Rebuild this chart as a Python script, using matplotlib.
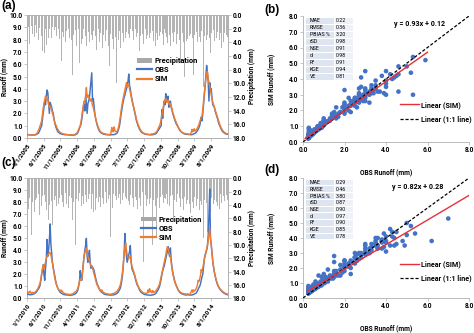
import matplotlib
matplotlib.use("Agg")
import matplotlib.pyplot as plt
from matplotlib.patches import Patch, Rectangle
from matplotlib.lines import Line2D
import numpy as np
import pandas as pd

FONT = "Roboto"
plt.rcParams["font.family"] = [FONT, "DejaVu Sans"]
plt.rcParams["font.weight"] = "bold"

# ---------------- weekly runoff (mm), 2005-2009 ----------------
obs_2005 = [0.30, 0.28, 0.27, 0.26, 0.26, 0.25, 0.25, 0.24, 0.24, 0.24, 0.25, 0.26, 0.28,
            0.32, 0.36, 0.40, 0.55, 0.70, 0.85, 1.00, 1.50, 2.00, 2.50, 3.00, 2.70, 3.40,
            3.90, 3.70, 2.80, 2.00, 2.90, 2.70, 2.50, 2.20, 2.00, 1.60, 1.20, 1.00, 0.80,
            0.65, 0.50, 0.45, 0.40, 0.36, 0.33, 0.31, 0.30, 0.29, 0.28, 0.27, 0.27, 0.26]
sim_2005 = [0.28, 0.27, 0.26, 0.25, 0.25, 0.24, 0.24, 0.24, 0.25, 0.26, 0.28, 0.30, 0.33,
            0.38, 0.50, 0.65, 0.80, 1.00, 1.20, 1.40, 1.90, 2.40, 2.80, 3.10, 3.40, 3.30,
            3.10, 3.20, 2.70, 2.50, 2.60, 2.50, 2.30, 2.00, 1.80, 1.50, 1.30, 1.10, 1.00,
            0.80, 0.70, 0.60, 0.52, 0.46, 0.42, 0.38, 0.36, 0.34, 0.32, 0.31, 0.30, 0.29]
obs_2006 = [0.27, 0.26, 0.25, 0.25, 0.24, 0.24, 0.23, 0.23, 0.23, 0.24, 0.25, 0.27, 0.30,
            0.35, 0.45, 0.60, 0.80, 0.95, 1.10, 1.50, 2.00, 2.50, 2.90, 2.20, 3.30, 2.80,
            2.00, 2.80, 3.00, 3.30, 4.00, 4.60, 5.30, 3.00, 3.20, 2.60, 2.00, 1.60, 1.30,
            1.05, 0.85, 0.70, 0.55, 0.48, 0.42, 0.38, 0.35, 0.32, 0.30, 0.29, 0.28, 0.27]
sim_2006 = [0.28, 0.27, 0.26, 0.26, 0.25, 0.25, 0.25, 0.25, 0.26, 0.27, 0.29, 0.32, 0.36,
            0.42, 0.55, 0.70, 0.85, 1.00, 1.30, 1.70, 2.20, 2.60, 3.00, 2.80, 3.40, 4.10,
            3.30, 3.50, 3.40, 3.10, 3.00, 3.20, 3.00, 2.60, 2.50, 2.20, 1.90, 1.60, 1.35,
            1.15, 0.95, 0.80, 0.65, 0.55, 0.48, 0.43, 0.40, 0.37, 0.35, 0.33, 0.32, 0.31]
obs_2007 = [0.27, 0.26, 0.26, 0.25, 0.25, 0.26, 0.28, 0.27, 0.27, 0.28, 0.30, 0.32, 0.35,
            0.42, 0.55, 0.75, 1.00, 1.40, 1.90, 2.30, 2.70, 3.00, 3.30, 3.50, 3.80, 4.00,
            4.40, 4.60, 5.20, 4.30, 4.00, 3.50, 3.20, 2.90, 2.60, 2.30, 2.00, 1.70, 1.40,
            1.20, 1.00, 0.85, 0.70, 0.60, 0.50, 0.45, 0.40, 0.37, 0.34, 0.32, 0.30, 0.29]
sim_2007 = [0.30, 0.29, 0.28, 0.28, 0.30, 0.45, 0.85, 0.55, 0.50, 0.90, 0.60, 0.50, 0.50,
            0.55, 0.70, 0.95, 1.30, 1.70, 2.20, 2.60, 3.00, 3.30, 3.60, 3.90, 4.20, 4.50,
            4.10, 4.30, 4.40, 4.00, 3.70, 3.40, 3.10, 2.80, 2.60, 2.30, 2.10, 1.80, 1.50,
            1.30, 1.10, 0.95, 0.80, 0.68, 0.58, 0.50, 0.45, 0.40, 0.37, 0.35, 0.33, 0.32]
obs_2008 = [0.29, 0.28, 0.27, 0.27, 0.26, 0.26, 0.26, 0.27, 0.28, 0.30, 0.32, 0.35, 0.40,
            0.50, 0.60, 0.70, 0.80, 0.90, 1.00, 2.30, 1.60, 2.40, 3.00, 2.70, 3.60, 2.90,
            3.20, 3.40, 2.50, 2.80, 3.00, 2.50, 2.30, 2.00, 1.80, 1.60, 1.40, 1.25, 1.10,
            1.00, 0.90, 0.75, 0.65, 0.55, 0.50, 0.45, 0.40, 0.36, 0.34, 0.32, 0.30, 0.30]
sim_2008 = [0.31, 0.30, 0.29, 0.29, 0.28, 0.30, 0.35, 0.32, 0.33, 0.36, 0.40, 0.45, 0.50,
            0.60, 0.75, 0.90, 1.00, 1.20, 1.50, 1.90, 2.20, 2.60, 2.90, 3.10, 3.20, 2.90,
            3.00, 3.10, 2.80, 2.70, 2.80, 2.60, 2.40, 2.10, 1.90, 1.70, 1.50, 1.35, 1.20,
            1.05, 0.90, 0.80, 0.70, 0.60, 0.52, 0.47, 0.43, 0.40, 0.38, 0.36, 0.35, 0.34]
obs_2009 = [0.30, 0.29, 0.28, 0.28, 0.27, 0.27, 0.28, 0.30, 0.32, 0.35, 0.38, 0.42, 0.50,
            0.60, 0.70, 0.85, 1.00, 1.30, 1.70, 1.40, 2.00, 2.70, 3.50, 4.20, 5.00, 5.90,
            5.30, 4.60, 3.00, 4.50, 4.00, 4.00, 3.20, 2.70, 2.60, 2.50, 2.20, 2.00, 1.80,
            1.60, 1.35, 1.15, 1.00, 0.85, 0.70, 0.60, 0.50, 0.45, 0.40, 0.36, 0.33, 0.31, 0.30]
sim_2009 = [0.33, 0.32, 0.31, 0.30, 0.32, 0.45, 0.70, 0.50, 0.65, 0.75, 0.55, 0.60, 0.70,
            0.80, 0.95, 1.10, 1.30, 1.50, 1.60, 1.80, 2.30, 3.00, 3.60, 4.30, 4.80, 5.20,
            5.40, 4.80, 4.50, 4.20, 3.90, 3.50, 3.20, 2.90, 2.70, 2.50, 2.30, 2.10, 1.90,
            1.70, 1.50, 1.30, 1.10, 0.95, 0.80, 0.70, 0.60, 0.52, 0.46, 0.42, 0.38, 0.35, 0.34]

# ---------------- weekly runoff (mm), 2010-2014 ----------------
obs_2010 = [0.35, 0.33, 0.32, 0.30, 0.30, 0.30, 0.31, 0.32, 0.34, 0.36, 0.40, 0.45, 0.50,
            0.60, 0.70, 0.80, 0.90, 1.10, 1.50, 2.00, 2.40, 2.80, 2.00, 1.50, 2.50, 3.20,
            4.90, 3.50, 4.00, 4.80, 6.20, 4.50, 3.80, 3.00, 2.60, 2.20, 1.90, 1.50, 1.20,
            1.00, 0.85, 0.70, 0.60, 0.50, 0.45, 0.40, 0.36, 0.33, 0.31, 0.30, 0.29, 0.28]
sim_2010 = [0.45, 0.55, 0.40, 0.50, 0.60, 0.45, 0.40, 0.50, 0.45, 0.42, 0.50, 0.55, 0.60,
            0.70, 0.80, 0.95, 1.10, 1.30, 1.60, 2.00, 2.40, 2.70, 2.50, 2.80, 3.00, 3.30,
            3.50, 3.60, 3.70, 3.80, 3.80, 3.60, 3.30, 2.90, 2.50, 2.10, 1.70, 1.40, 1.20,
            1.00, 0.85, 0.75, 0.65, 0.60, 0.70, 0.55, 0.60, 0.45, 0.42, 0.40, 0.38, 0.36]
obs_2011 = [0.28, 0.27, 0.27, 0.26, 0.26, 0.26, 0.27, 0.28, 0.30, 0.32, 0.35, 0.40, 0.45,
            0.55, 0.70, 1.00, 1.40, 2.30, 1.80, 1.50, 2.20, 2.80, 3.50, 4.00, 4.40, 5.00,
            3.50, 3.00, 3.60, 4.00, 3.00, 2.50, 2.70, 2.60, 2.50, 2.30, 2.00, 1.70, 1.45,
            1.20, 1.05, 0.90, 0.75, 0.62, 0.55, 0.50, 0.45, 0.40, 0.36, 0.33, 0.31, 0.30]
sim_2011 = [0.35, 0.34, 0.33, 0.32, 0.32, 0.33, 0.35, 0.37, 0.40, 0.45, 0.50, 0.55, 0.60,
            0.70, 0.85, 1.10, 1.40, 1.60, 1.50, 1.60, 2.20, 2.90, 3.50, 3.80, 4.00, 4.20,
            3.80, 3.50, 3.30, 3.10, 2.90, 2.70, 2.60, 2.50, 2.30, 2.00, 1.80, 1.50, 1.30,
            1.10, 1.00, 0.85, 0.75, 0.70, 0.60, 0.70, 0.55, 0.50, 0.45, 0.42, 0.40, 0.38]
obs_2012 = [0.30, 0.29, 0.28, 0.28, 0.27, 0.27, 0.27, 0.28, 0.29, 0.30, 0.32, 0.35, 0.38,
            0.42, 0.50, 0.60, 0.70, 0.85, 1.10, 1.50, 2.00, 2.80, 3.80, 5.40, 4.20, 3.50,
            3.00, 3.30, 3.60, 3.90, 4.40, 3.20, 2.50, 2.30, 2.20, 2.00, 1.80, 1.50, 1.30,
            1.10, 1.00, 0.85, 0.70, 0.60, 0.50, 0.45, 0.40, 0.36, 0.33, 0.31, 0.30, 0.29]
sim_2012 = [0.37, 0.36, 0.35, 0.34, 0.34, 0.35, 0.36, 0.38, 0.40, 0.42, 0.45, 0.50, 0.55,
            0.60, 0.70, 0.80, 0.95, 1.10, 1.40, 1.80, 2.30, 3.00, 3.80, 4.30, 4.60, 4.00,
            3.60, 3.40, 3.30, 3.40, 3.50, 3.00, 2.70, 2.50, 2.30, 2.10, 1.90, 1.60, 1.40,
            1.20, 1.05, 0.90, 0.80, 0.70, 0.62, 0.55, 0.50, 0.46, 0.43, 0.41, 0.40, 0.42]
obs_2013 = [0.28, 0.27, 0.27, 0.26, 0.26, 0.26, 0.27, 0.28, 0.30, 0.32, 0.35, 0.40, 0.50,
            0.60, 0.70, 0.85, 1.00, 1.30, 1.60, 2.00, 2.30, 2.50, 2.70, 3.00, 3.30, 3.60,
            3.90, 4.30, 3.80, 3.50, 4.20, 3.20, 2.60, 2.20, 1.90, 1.60, 1.35, 1.15, 1.00,
            0.85, 0.70, 0.60, 0.50, 0.45, 0.40, 0.37, 0.34, 0.32, 0.30, 0.29, 0.28, 0.28]
sim_2013 = [0.45, 0.70, 0.50, 0.80, 0.55, 0.60, 0.45, 0.65, 0.50, 0.50, 0.55, 0.60, 0.70,
            0.80, 0.90, 1.05, 1.20, 1.50, 1.80, 2.10, 2.40, 2.70, 3.00, 3.30, 3.60, 4.00,
            4.30, 4.10, 3.90, 3.70, 3.50, 3.00, 2.50, 2.10, 1.80, 1.50, 1.30, 1.15, 1.00,
            0.85, 0.72, 0.62, 0.55, 0.50, 0.46, 0.43, 0.40, 0.38, 0.37, 0.36, 0.36, 0.35]
obs_2014 = [0.30, 0.29, 0.28, 0.28, 0.27, 0.27, 0.28, 0.30, 0.32, 0.35, 0.38, 0.42, 0.50,
            0.60, 0.75, 0.90, 1.00, 1.20, 1.50, 1.80, 2.00, 2.60, 3.30, 3.60, 3.80, 4.00,
            4.30, 5.20, 7.00, 9.10, 5.00, 4.50, 3.80, 3.00, 2.60, 2.20, 1.90, 1.60, 1.35,
            1.15, 1.00, 0.88, 0.78, 0.70, 0.62, 0.56, 0.50, 0.45, 0.41, 0.37, 0.34, 0.32, 0.30]
sim_2014 = [0.37, 0.36, 0.35, 0.34, 0.40, 0.55, 0.70, 0.50, 0.70, 0.60, 0.65, 0.75, 0.90,
            1.10, 1.50, 1.40, 1.60, 1.90, 2.40, 2.20, 2.50, 2.90, 3.20, 3.50, 3.80, 4.10,
            4.40, 4.80, 5.30, 5.80, 5.00, 4.40, 3.70, 3.10, 2.60, 2.20, 1.90, 1.60, 1.40,
            1.20, 1.05, 0.92, 0.82, 0.74, 0.67, 0.60, 0.55, 0.50, 0.46, 0.42, 0.39, 0.37, 0.35]

# ---------------- weekly precipitation peaks (mm) ----------------
prcp_2005_2009 = [
    2.5, 3.0, 1.8, 4.2, 2.2, 3.5, 1.6, 2.8, 4.5, 2.0, 3.2, 1.5, 2.6, 4.0, 2.4, 3.6, 1.9, 4.8,
    2.7, 3.1, 5.2, 2.3, 3.8, 5.5, 2.1, 4.4, 2.9, 5.0, 3.3, 2.0, 4.1, 2.6, 3.4, 1.8, 2.9, 3.7,
    2.2, 1.7, 3.0, 2.4, 4.3, 2.0, 3.5, 2.8, 4.6, 6.8, 2.5, 3.2, 1.9, 2.7, 3.9, 2.3,
    2.8, 4.0, 2.1, 3.3, 5.0, 2.6, 3.6, 8.8, 2.9, 6.0, 3.4, 2.2, 4.5, 2.8, 3.9, 2.0, 7.0, 3.1,
    2.4, 4.2, 3.5, 2.0, 5.3, 2.7, 3.0, 4.6, 2.2, 3.8, 2.5, 4.0, 3.2, 1.8, 2.9, 3.6, 2.3, 4.4,
    2.6, 3.1, 5.1, 2.4, 3.3, 2.0, 4.0, 2.7, 3.5, 2.1, 4.8, 2.9, 3.2, 2.5, 3.8, 2.2,
    8.0, 3.0, 4.5, 7.5, 2.8, 4.2, 16.5, 3.5, 5.0, 2.6, 4.0, 3.2, 10.0, 2.9, 6.5, 3.6, 2.4, 4.8,
    3.1, 5.5, 2.7, 3.9, 2.2, 4.6, 3.3, 2.5, 4.1, 6.0, 2.8, 3.4, 2.0, 4.4, 3.0, 2.3, 3.7, 2.6,
    4.9, 2.1, 3.2, 2.7, 3.8, 2.4, 5.2, 3.0, 2.2, 3.6, 2.8, 4.3, 2.5, 3.1, 2.0, 3.5,
    2.9, 4.0, 2.3, 3.4, 2.6, 4.7, 10.5, 2.4, 3.8, 2.2, 3.3, 4.5, 2.7, 3.6, 2.0, 4.2, 3.0, 2.5,
    5.0, 3.3, 2.8, 4.4, 2.1, 11.0, 2.6, 3.2, 4.1, 2.4, 3.5, 2.9, 4.6, 2.2, 3.0, 2.7, 3.9, 2.5,
    3.4, 2.1, 4.3, 2.8, 3.1, 2.4, 3.6, 7.0, 3.0, 7.5, 2.6, 4.0, 9.0, 3.2, 2.7, 3.8,
    3.5, 2.4, 4.6, 3.0, 2.8, 4.1, 2.2, 3.3, 8.8, 2.9, 3.6, 4.4, 2.5, 3.9, 2.6, 9.5, 3.2, 4.0,
    2.3, 3.5, 2.7, 10.5, 3.1, 4.8, 2.4, 3.7, 2.9, 4.2, 2.1, 3.4, 5.6, 2.6, 3.0, 4.5, 2.2, 3.8,
    2.8, 5.0, 3.3, 2.5, 4.3, 2.0, 3.6, 2.7, 4.9, 3.1, 2.3, 3.9, 2.6, 3.4, 4.7, 2.9, 3.2]
prcp_2010_2014 = [
    3.2, 2.5, 4.6, 3.0, 5.2, 2.8, 8.5, 3.5, 4.1, 2.6, 5.0, 3.3, 2.9, 4.4, 3.7, 2.4, 5.5, 8.0,
    3.1, 4.2, 2.7, 3.9, 5.1, 2.5, 3.6, 4.8, 2.9, 3.3, 6.2, 4.0, 3.0, 10.5, 3.4, 7.0, 2.8, 4.5,
    3.2, 2.6, 4.1, 3.5, 2.3, 3.8, 2.9, 4.7, 3.1, 2.5, 3.6, 4.3, 2.7, 3.4, 2.2, 3.9,
    6.0, 3.0, 4.4, 2.6, 5.8, 3.3, 2.9, 6.2, 3.6, 2.4, 4.1, 10.0, 3.1, 2.7, 4.5, 3.4, 2.2, 11.5,
    3.0, 4.2, 2.6, 3.8, 3.2, 4.9, 2.5, 3.5, 2.8, 4.0, 3.1, 2.3, 3.7, 2.9, 4.6, 2.4, 5.0, 3.2,
    2.7, 4.8, 3.0, 2.5, 5.1, 3.6, 2.8, 4.3, 2.2, 3.4, 2.9, 3.9, 2.6, 3.3, 2.1, 3.7,
    2.8, 4.2, 3.1, 2.5, 8.8, 3.6, 2.9, 4.4, 2.3, 3.5, 4.0, 2.7, 3.2, 4.7, 2.6, 3.0, 2.4, 3.8,
    2.9, 4.1, 3.3, 2.2, 3.6, 4.5, 2.8, 3.1, 9.5, 2.7, 3.4, 4.0, 2.5, 3.7, 2.3, 3.0, 4.3, 2.6,
    3.9, 2.8, 3.2, 4.6, 2.4, 3.5, 2.9, 4.1, 2.7, 3.3, 2.1, 12.5, 3.0, 3.6, 2.5, 4.2,
    3.1, 4.4, 2.6, 3.8, 2.9, 3.4, 4.9, 10.0, 3.2, 7.5, 2.7, 4.1, 9.0, 3.0, 3.6, 2.4, 4.5, 2.8,
    3.3, 4.0, 2.5, 3.7, 2.9, 4.6, 3.1, 2.3, 3.9, 2.7, 3.4, 4.2, 2.6, 3.0, 4.8, 2.5, 6.5, 3.2,
    2.8, 6.0, 3.5, 2.4, 7.0, 3.3, 2.9, 4.3, 3.6, 2.6, 3.1, 4.7, 2.8, 3.4, 2.2, 3.9,
    3.3, 4.6, 2.7, 3.9, 5.2, 3.0, 14.5, 3.5, 4.4, 2.8, 5.0, 3.6, 4.1, 3.1, 5.4, 2.9, 4.7, 3.4,
    4.0, 2.6, 3.8, 9.0, 3.2, 5.5, 11.0, 3.7, 8.0, 4.3, 2.9, 3.6, 5.1, 3.0, 4.5, 2.7, 3.9, 3.3,
    4.8, 2.5, 3.5, 4.2, 2.8, 3.1, 4.6, 2.4, 3.7, 3.0, 4.0, 2.6, 3.4, 2.9, 3.8, 2.5, 3.2]

obs_a = obs_2005 + obs_2006 + obs_2007 + obs_2008 + obs_2009
sim_a = sim_2005 + sim_2006 + sim_2007 + sim_2008 + sim_2009
obs_c = obs_2010 + obs_2011 + obs_2012 + obs_2013 + obs_2014
sim_c = sim_2010 + sim_2011 + sim_2012 + sim_2013 + sim_2014

# ---------------- goodness-of-fit statistics ----------------
stat_names = ["MAE", "RMSE", "PBIAS %", "rSD", "NSE", "d", "R²", "KGE", "VE"]
stats_cal = [0.22, 0.36, 3.20, 0.98, 0.91, 0.98, 0.91, 0.94, 0.81]
stats_val = [0.29, 0.46, 3.80, 0.87, 0.90, 0.97, 0.90, 0.85, 0.78]
fit_cal = (0.93, 0.12)      # slope, intercept
fit_val = (0.82, 0.28)
fit_span_cal = (0.1, 6.0)
fit_span_val = (0.2, 8.0)

BLUE = "#4472C4"
ORANGE = "#ED7D31"
GRAY = "#b4b4b4"
RED = "#E8303A"
SPINE = "#b0b0b0"
TS = 4.8

W, H = 474, 333
fig = plt.figure(figsize=(W / 100, H / 100), dpi=100)


def px_axes(x0, y0, x1, y1):
    return fig.add_axes([x0 / W, 1 - y1 / H, (x1 - x0) / W, (y1 - y0) / H])


def style_ticks(ax, xsize=TS):
    for lab in ax.get_xticklabels() + ax.get_yticklabels():
        lab.set_fontweight("bold")
    ax.tick_params(labelsize=TS, length=2, width=0.5, color=SPINE, pad=1.2)
    ax.tick_params(axis="x", labelsize=xsize)


def series_panel(box, start, obs, sim, prcp, legend_xy):
    ax = px_axes(*box)
    dates = pd.date_range(start, periods=len(obs), freq="7D")
    pdates = pd.date_range(start, periods=len(prcp), freq="7D")
    ax2 = ax.twinx()
    ax2.bar(pdates, prcp, width=5, color=GRAY, linewidth=0, align="center")
    ax2.set_ylim(18, 0)
    ax2.set_yticks(np.arange(0, 19, 2))
    ax2.set_yticklabels([f"{v:.1f}" for v in np.arange(0, 19, 2)])
    ax2.set_ylabel("Precipitation (mm)", fontsize=TS, fontweight="bold", labelpad=2)
    ax.set_zorder(ax2.get_zorder() + 1)
    ax.patch.set_visible(False)

    ax.plot(dates, obs, color=BLUE, lw=1.05, zorder=3)
    ax.plot(dates, sim, color=ORANGE, lw=1.05, zorder=4)
    y0 = pd.Timestamp(start)
    ax.set_xlim(y0, y0 + pd.DateOffset(years=5) - pd.Timedelta(days=1))
    ax.set_ylim(0, 10)
    ax.set_yticks(np.arange(0, 11, 1))
    ax.set_yticklabels([f"{v:.1f}" for v in np.arange(0, 11, 1)])
    ticks = pd.date_range(start, periods=12, freq="5MS")
    ax.set_xticks(ticks)
    ax.set_xticklabels([f"{d.month}/{d.day}/{d.year}" for d in ticks],
                       rotation=55, ha="right", rotation_mode="anchor")
    ax.set_ylabel("Runoff (mm)", fontsize=TS, fontweight="bold", labelpad=1)
    style_ticks(ax, xsize=4.6)
    style_ticks(ax2)
    for a in (ax, ax2):
        for s in a.spines.values():
            s.set_color(SPINE)
            s.set_linewidth(0.6)
    handles = [Patch(facecolor="#a8a8a8", edgecolor="none", label="Precipitation"),
               Line2D([], [], color=BLUE, lw=1.6, label="OBS"),
               Line2D([], [], color=ORANGE, lw=1.6, label="SIM")]
    leg = ax.legend(handles=handles, loc="upper left", bbox_to_anchor=legend_xy,
                    frameon=False, fontsize=TS + 0.6, handlelength=2.0, handleheight=0.6,
                    labelspacing=0.15, borderpad=0, handletextpad=0.3)
    for t in leg.get_texts():
        t.set_fontweight("bold")
    return ax


def scatter_panel(box, obs, sim, stats, fit, span, eq_xy, leg_xy, table_top, table_bot):
    ax = px_axes(*box)
    ax.scatter(obs, sim, s=11, color=BLUE, edgecolors="none", zorder=2)
    ax.plot([0, 8], [0, 8], ls=(0, (2.5, 1.5)), color="black", lw=0.9, zorder=3,
            label="Linear (1:1 line)")
    xs = np.array(span)
    ax.plot(xs, fit[0] * xs + fit[1], color=RED, lw=1.0, zorder=4, label="Linear (SIM)")
    ax.set_xlim(0, 8)
    ax.set_ylim(0, 8)
    ax.set_xticks(np.arange(0, 9, 2))
    ax.set_xticklabels([f"{v:.1f}" for v in np.arange(0, 9, 2)])
    ax.set_yticks(np.arange(0, 9, 1))
    ax.set_yticklabels([f"{v:.1f}" for v in np.arange(0, 9, 1)])
    for side in ("top", "right"):
        ax.spines[side].set_visible(False)
    for side in ("left", "bottom"):
        ax.spines[side].set_color(SPINE)
        ax.spines[side].set_linewidth(0.6)
    style_ticks(ax)
    ax.set_xlabel("OBS Runoff (mm)", fontsize=TS, fontweight="bold", labelpad=10)
    ax.set_ylabel("SIM Runoff (mm)", fontsize=TS, fontweight="bold", labelpad=10)
    ax.text(eq_xy[0], eq_xy[1], f"y = {fit[0]:.2f}x + {fit[1]:.2f}", transform=ax.transAxes,
            fontsize=TS + 0.3, fontweight="bold", ha="center", va="center")
    h, l = ax.get_legend_handles_labels()
    leg = ax.legend([h[1], h[0]], [l[1], l[0]], loc="lower left", bbox_to_anchor=leg_xy,
                    frameon=False, fontsize=TS + 0.3, handlelength=2.8, labelspacing=0.9,
                    borderpad=0, handletextpad=0.3)
    for t in leg.get_texts():
        t.set_fontweight("bold")
    # statistics table
    n = len(stat_names)
    rh = (table_top - table_bot) / n
    for i, (name, val) in enumerate(zip(stat_names, stats)):
        yt = table_top - (i + 1) * rh
        ax.add_patch(Rectangle((0.02, yt + 0.004), 0.165, rh - 0.008, transform=ax.transAxes,
                               facecolor="#dfe5f0", edgecolor="none", zorder=5))
        ax.add_patch(Rectangle((0.19, yt + 0.004), 0.11, rh - 0.008, transform=ax.transAxes,
                               facecolor="#eef1f7", edgecolor="none", zorder=5))
        ax.text(0.04, yt + rh / 2, name, transform=ax.transAxes, fontsize=3.8,
                va="center", ha="left", zorder=6, fontweight="normal")
        ax.text(0.20, yt + rh / 2, f"{val:.2f}", transform=ax.transAxes, fontsize=3.8,
                va="center", ha="left", zorder=6, fontweight="normal")
    return ax


series_panel((27, 15, 228, 138), "2005-01-01", obs_a, sim_a, prcp_2005_2009, (0.53, 0.69))
series_panel((27, 178.3, 228, 298.3), "2010-01-01", obs_c, sim_c, prcp_2010_2014, (0.55, 0.72))
scatter_panel((303, 16, 469, 142), obs_a, sim_a, stats_cal, fit_cal, fit_span_cal,
              (0.70, 0.935), (0.56, 0.12), 0.99, 0.49)
scatter_panel((303, 178, 469, 298), obs_c, sim_c, stats_val, fit_val, fit_span_val,
              (0.69, 0.925), (0.56, 0.10), 0.99, 0.485)

for lab, (x, y) in {"(a)": (1, 6), "(b)": (264, 10), "(c)": (1, 163), "(d)": (264, 170)}.items():
    fig.text(x / W, 1 - y / H, lab, fontsize=8.5, fontweight="bold", family="Liberation Sans",
             va="center", ha="left")

fig.savefig("out.png", dpi=100)
